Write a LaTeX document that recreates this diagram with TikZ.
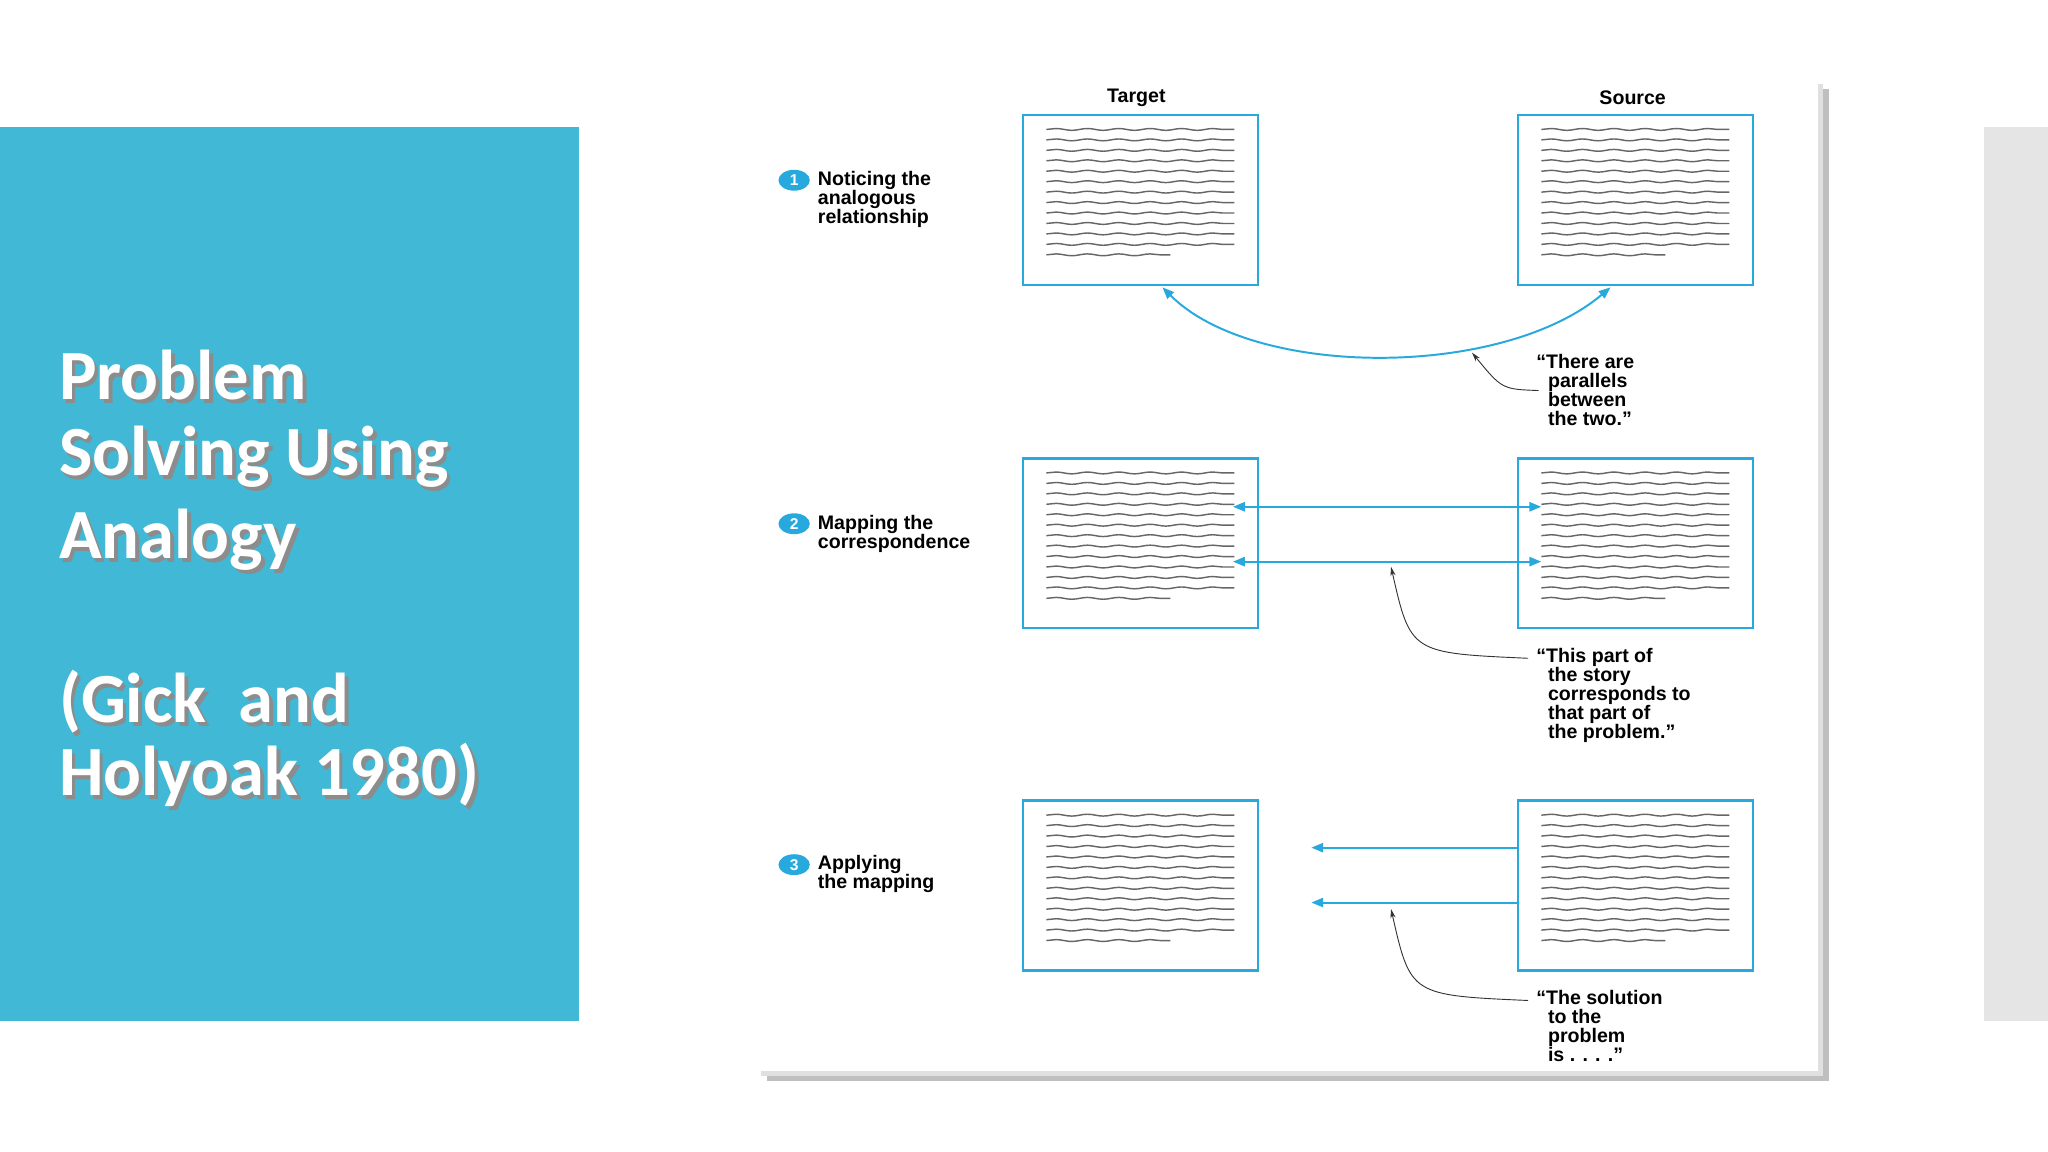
\documentclass[tikz,border=0pt]{standalone}
\usepackage{fontspec}
\setmainfont{Liberation Sans}
\newfontfamily\titlefont{Carlito}
\usetikzlibrary{decorations.pathmorphing,arrows.meta,shapes.geometric,calc}
\definecolor{teal}{HTML}{41B8D5}
\definecolor{bl}{HTML}{27A9DE}
\tikzset{
 doc/.style={draw=bl,line width=1.8pt,fill=white,minimum width=180pt,minimum height=130pt,inner sep=0},
 wl/.style={draw=black!60,line width=1.1pt,decorate,decoration={snake,amplitude=0.7pt,segment length=24pt}},
 lbl/.style={font=\bfseries\fontsize{15}{14.5}\selectfont,align=left,inner sep=0,anchor=north west},
 num/.style={ellipse,fill=bl,text=white,font=\bfseries\fontsize{12}{12}\selectfont,inner sep=1pt,minimum width=24pt,minimum height=16pt},
 bar/.style={bl,line width=1.5pt,-{Triangle[length=9pt,width=7pt]}},
 qa/.style={black!80,line width=0.7pt,-{Stealth[length=7pt,width=4pt]}},
 ttl/.style={font=\titlefont\bfseries\fontsize{54}{63}\selectfont,text=white,align=left,inner sep=0,anchor=west}
}
\newcommand{\txtlines}[1]{%
 \foreach \k in {0,...,11}{\draw[wl] ($(#1.north west)+(19,12+8*\k)$) -- ++(144,0);}
 \draw[wl] ($(#1.north west)+(19,108)$) -- ++(95,0);}
\begin{document}
\begin{tikzpicture}[x=1pt,y=-1pt]
\useasboundingbox (0,0) rectangle (1568,882);
\fill[white] (0,0) rectangle (1568,882);
\fill[teal] (0,97) rectangle (443,782);
\fill[black!10] (1519,97) rectangle (1568,782);
\foreach \t/\y in {{Problem}/287,{Solving Using}/350,{Analogy}/413,{(Gick\ \ and}/537,{Holyoak 1980)}/593}{
 \node[ttl,text=black!45] at (48,\y+3) {\t};
 \node[ttl] at (45,\y) {\t};}
% panel
\fill[black!25] (587,68) rectangle (1400,828);
\fill[black!12] (583,64) rectangle (1396,824);
\fill[white] (579,60) rectangle (1392,820);
\node[font=\bfseries\fontsize{15}{15}\selectfont] (tl) at (870,75) {Target};
\node[font=\bfseries\fontsize{15}{15}\selectfont] (sl) at (1250,75) {Source};
\foreach \r/\y in {1/153,2/416,3/678}{
 \node[doc] (t\r) at (873,\y) {};
 \node[doc] (s\r) at (1252,\y) {};
 \txtlines{t\r}\txtlines{s\r}}
\node[num] (n1) at (608,138) {1};
\node[num] (n2) at (608,401) {2};
\node[num] (n3) at (608,662) {3};
\node[lbl] (l1) at (626,131) {Noticing the\\analogous\\relationship};
\node[lbl] (l2) at (626,394) {Mapping the\\correspondence};
\node[lbl] (l3) at (626,655) {Applying\\the mapping};
% row1 curve
\coordinate (c1a) at (890,220);\coordinate (c1b) at (1233,220);
\draw[bl,line width=1.5pt,{Triangle[length=9pt,width=7pt]}-{Triangle[length=9pt,width=7pt]}] (c1a) .. controls (960,290) and (1150,290) .. (c1b);
% row2
\draw[bl,line width=1.5pt,{Triangle[length=9pt,width=7pt]}-{Triangle[length=9pt,width=7pt]}] (944,388) -- (1180,388);
\draw[bl,line width=1.5pt,{Triangle[length=9pt,width=7pt]}-{Triangle[length=9pt,width=7pt]}] (944,430) -- (1180,430);
% row3
\coordinate (a3) at (1004,649);\coordinate (b3) at (1004,691);
\draw[bar] (s3.west |- a3) -- (a3);
\draw[bar] (s3.west |- b3) -- (b3);
% quotes
\node[lbl] (q1) at (1176,271) {“There are\\\hspace*{9pt}parallels\\\hspace*{9pt}between\\\hspace*{9pt}the two.”};
\node[lbl] (q2) at (1176,496) {“This part of\\\hspace*{9pt}the story\\\hspace*{9pt}corresponds to\\\hspace*{9pt}that part of\\\hspace*{9pt}the problem.”};
\node[lbl] (q3) at (1176,758) {“The solution\\\hspace*{9pt}to the\\\hspace*{9pt}problem\\\hspace*{9pt}is . . . .”};
\coordinate (e1) at (1127,270);\coordinate (e2) at (1065,434);\coordinate (e3) at (1065,696);
\draw[qa] ($(q1.north west)+(2,28)$) .. controls (1150,298) .. (e1);
\draw[qa] ($(q2.north west)+(-6,8)$) .. controls (1080,500) .. (e2);
\draw[qa] ($(q3.north west)+(-6,8)$) .. controls (1080,762) .. (e3);
\end{tikzpicture}
\end{document}
